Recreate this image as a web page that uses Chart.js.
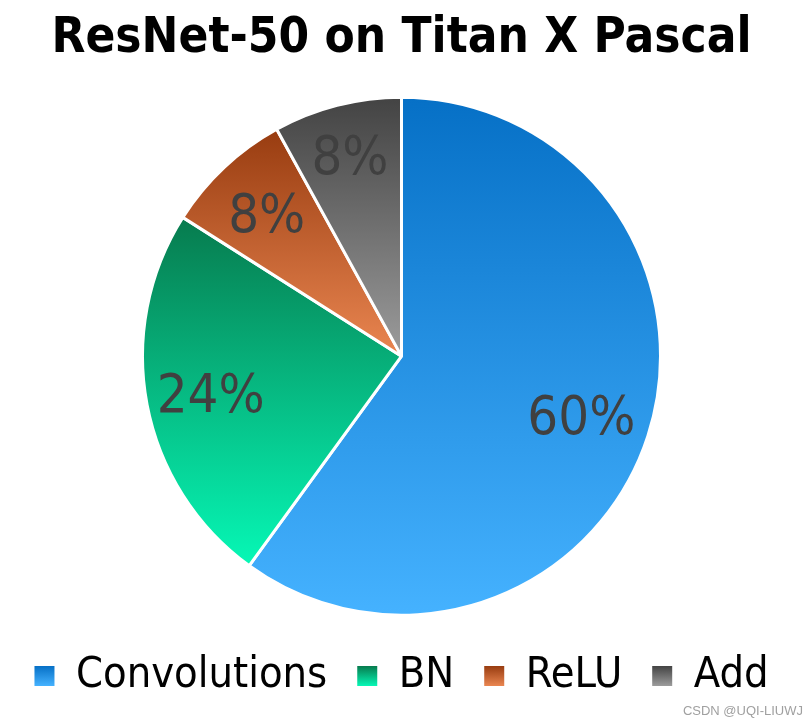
<!DOCTYPE html>
<html>
<head>
<meta charset="utf-8">
<script src="https://cdn.jsdelivr.net/npm/chart.js@4/dist/chart.umd.min.js"></script>
<style>
  html, body { margin: 0; padding: 0; background: #ffffff; }
  #wrap { width: 807px; height: 727px; }
</style>
</head>
<body>
<div id="wrap"><canvas id="c" width="807" height="727"></canvas></div>
<script>
const chartTitle = 'ResNet-50 on Titan X Pascal';
const categories = ['Convolutions', 'BN', 'ReLU', 'Add'];
const shares = [60, 24, 8, 8];
const valueLabels = ['60%', '24%', '8%', '8%'];
const watermark = 'CSDN @UQI-LIUWJ';

const gradTop = ['#0670c6', '#077b4e', '#983c10', '#434343'];
const gradBottom = ['#45b2ff', '#06f8b6', '#ea8651', '#9c9c9c'];
const labelRadius = [0.73, 0.75, 0.76, 0.80];

function sectorGradient(ctx, arc, i) {
  const cx = arc.x, cy = arc.y, r = arc.outerRadius;
  const a0 = arc.startAngle, a1 = arc.endAngle;
  const ys = [cy, cy + r * Math.sin(a0), cy + r * Math.sin(a1)];
  for (let k = -4; k <= 4; k++) {
    const a = Math.PI / 2 + k * Math.PI;
    if (a > a0 && a < a1) ys.push(cy + r * Math.sin(a));
  }
  const top = Math.min(...ys), bottom = Math.max(...ys);
  const g = ctx.createLinearGradient(0, top, 0, bottom);
  g.addColorStop(0, gradTop[i]);
  g.addColorStop(1, gradBottom[i]);
  return g;
}

const gradientPlugin = {
  id: 'sliceGradients',
  beforeDatasetsDraw(chart) {
    const meta = chart.getDatasetMeta(0);
    meta.data.forEach((arc, i) => {
      arc.options.backgroundColor = sectorGradient(chart.ctx, arc, i);
    });
  },
  beforeDraw(chart) {
    const lg = chart.legend;
    if (!lg || !lg.legendItems || !lg.legendHitBoxes) return;
    const bh = lg.options.labels.boxHeight;
    lg.legendItems.forEach((item, i) => {
      const hb = lg.legendHitBoxes[i];
      if (!hb) return;
      const t = hb.top + (hb.height - bh) / 2;
      const g = chart.ctx.createLinearGradient(0, t, 0, t + bh);
      g.addColorStop(0, gradTop[i]);
      g.addColorStop(1, gradBottom[i]);
      item.fillStyle = g;
      item.lineWidth = 0;
      item.strokeStyle = 'rgba(0,0,0,0)';
    });
  }
};

const labelPlugin = {
  id: 'sliceLabels',
  afterDatasetsDraw(chart) {
    const ctx = chart.ctx;
    const meta = chart.getDatasetMeta(0);
    ctx.save();
    ctx.font = '54px "DejaVu Sans Condensed", "DejaVu Sans", sans-serif';
    ctx.fillStyle = '#404040';
    ctx.textAlign = 'center';
    ctx.textBaseline = 'middle';
    meta.data.forEach((arc, i) => {
      const mid = (arc.startAngle + arc.endAngle) / 2;
      const rr = arc.outerRadius * labelRadius[i];
      ctx.fillText(valueLabels[i], arc.x + rr * Math.cos(mid), arc.y + rr * Math.sin(mid) + 5);
    });
    ctx.restore();
  }
};

new Chart(document.getElementById('c'), {
  type: 'pie',
  data: {
    labels: categories,
    datasets: [{
      data: shares,
      backgroundColor: gradTop,
      borderColor: '#ffffff',
      borderWidth: 3
    }]
  },
  options: {
    responsive: false,
    animation: false,
    radius: 259,
    layout: { padding: { left: 0, right: 4, top: 0, bottom: 0 } },
    plugins: {
      tooltip: { enabled: false },
      title: {
        display: true,
        text: chartTitle,
        color: '#000000',
        font: { family: '"DejaVu Sans Condensed", "DejaVu Sans", sans-serif', size: 49, weight: 'bold', lineHeight: 1.2 },
        padding: { top: 10, bottom: 19 }
      },
      subtitle: {
        display: true,
        text: watermark,
        position: 'bottom',
        align: 'end',
        color: '#a0a0a0',
        font: { family: '"Liberation Sans Narrow", "Liberation Sans", sans-serif', size: 13, lineHeight: 1 },
        padding: { top: -3, bottom: 9.5 }
      },
      legend: {
        position: 'bottom',
        labels: {
          color: '#000000',
          boxWidth: 20,
          boxHeight: 20,
          padding: 30,
          font: { family: '"DejaVu Sans Condensed", "DejaVu Sans", sans-serif', size: 43 }
        }
      }
    }
  },
  plugins: [gradientPlugin, labelPlugin]
});
</script>
</body>
</html>
